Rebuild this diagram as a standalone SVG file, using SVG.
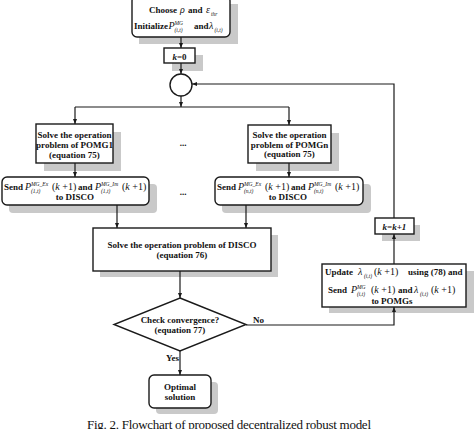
<svg xmlns="http://www.w3.org/2000/svg" width="474" height="429" viewBox="0 0 474 429">
<style>
text{font-family:"Liberation Serif","Times New Roman",serif;fill:#111;}
.b{font-weight:bold;font-size:9px;}
.c{text-anchor:middle;}
.m{font-style:italic;font-weight:normal;font-size:10px;}
.r{font-weight:normal;font-size:10px;}
.s{font-style:italic;font-weight:normal;font-size:5.5px;}
.box{fill:#fff;stroke:#1a1a1a;stroke-width:1.4;}
.sh{fill:#c9c9c9;stroke:none;}
.ln{fill:none;stroke:#1a1a1a;stroke-width:1.2;}
.cap{font-size:13px;font-weight:normal;}
</style>
<defs>
<marker id="ah" viewBox="0 0 10 8" refX="10" refY="4" markerWidth="5" markerHeight="4.5" markerUnits="userSpaceOnUse" orient="auto">
<path d="M0,0 L10,4 L0,8 z" fill="#1a1a1a"/>
</marker>
</defs>
<rect width="474" height="429" fill="#fff"/>

<g id="init">
<rect class="sh" x="139" y="4" width="99" height="40"/>
<rect class="box" x="132" y="-4" width="98" height="41" rx="5"/>
<text class="b" y="13" font-size="8.5"><tspan x="149">Choose</tspan><tspan class="m" x="180">ρ</tspan><tspan x="188">and</tspan><tspan class="m" x="206">ε</tspan><tspan class="s" x="211" y="15.5">thr</tspan></text>
<text class="b" y="29" font-size="8.5"><tspan x="134">Initialize</tspan><tspan class="m" x="168.5">P</tspan><tspan class="s" x="174.5" y="25">MG</tspan><tspan class="s" x="174.5" y="32">(i,t)</tspan><tspan x="194" y="29">and</tspan><tspan class="m" x="209">λ</tspan><tspan class="s" x="214.5" y="31.5">(i,t)</tspan></text>
</g>

<g id="k0">
<rect class="sh" x="172" y="55" width="31" height="16"/>
<rect class="box" x="164" y="48" width="31" height="15"/>
<text class="b c" x="179.5" y="59.5"><tspan font-style="italic">k</tspan>=0</text>
</g>

<g id="merge">
<circle class="box" cx="181" cy="85" r="11"/>
</g>

<g id="pomg1">
<rect class="sh" x="44" y="132" width="77" height="39"/>
<rect class="box" x="36" y="124" width="77" height="39"/>
<text class="b c" x="74.5" y="138">Solve the operation</text>
<text class="b c" x="74.5" y="148">problem of POMG1</text>
<text class="b c" x="74.5" y="157.5">(equation 75)</text>
</g>

<g id="pomgn">
<rect class="sh" x="256" y="133" width="83" height="38"/>
<rect class="box" x="248" y="125" width="83" height="38"/>
<text class="b c" x="289.5" y="137.5">Solve the operation</text>
<text class="b c" x="289.5" y="147.5">problem of POMGn</text>
<text class="b c" x="289.5" y="157">(equation 75)</text>
</g>

<g id="dots">
<text class="b c" x="183" y="146" font-size="12">...</text>
<text class="b c" x="183" y="195" font-size="12">...</text>
</g>

<g id="send1">
<rect class="sh" x="9" y="184" width="148" height="29" rx="4"/>
<rect class="box" x="2" y="177" width="147" height="28" rx="5"/>
<text class="b" y="190"><tspan x="4">Send</tspan><tspan class="m" x="25">P</tspan><tspan class="s" x="31" y="185.5">MG_Ex</tspan><tspan class="s" x="31" y="192.5">(1,t)</tspan><tspan class="r" x="52" y="190">(<tspan font-style="italic">k</tspan> +1)</tspan><tspan x="78">and</tspan><tspan class="m" x="95">P</tspan><tspan class="s" x="101" y="185.5">MG_Im</tspan><tspan class="s" x="101" y="192.5">(1,t)</tspan><tspan class="r" x="122" y="190">(<tspan font-style="italic">k</tspan> +1)</tspan></text>
<text class="b c" x="75" y="199.5">to DISCO</text>
</g>

<g id="sendn">
<rect class="sh" x="222" y="184" width="149" height="29" rx="4"/>
<rect class="box" x="215" y="177" width="148" height="28" rx="5"/>
<text class="b" y="190"><tspan x="217">Send</tspan><tspan class="m" x="238">P</tspan><tspan class="s" x="244" y="185.5">MG_Ex</tspan><tspan class="s" x="244" y="192.5">(n,t)</tspan><tspan class="r" x="265" y="190">(<tspan font-style="italic">k</tspan> +1)</tspan><tspan x="291">and</tspan><tspan class="m" x="308">P</tspan><tspan class="s" x="314" y="185.5">MG_Im</tspan><tspan class="s" x="314" y="192.5">(n,t)</tspan><tspan class="r" x="335" y="190">(<tspan font-style="italic">k</tspan> +1)</tspan></text>
<text class="b c" x="288" y="199.5">to DISCO</text>
</g>

<g id="disco">
<rect class="sh" x="100" y="235" width="178" height="42"/>
<rect class="box" x="93" y="228" width="178" height="43"/>
<text class="b c" x="182" y="248">Solve the operation problem of DISCO</text>
<text class="b c" x="182" y="257.5">(equation 76)</text>
</g>

<g id="check">
<polygon class="box" points="180,298 246,324.5 180,351 114,324.5"/>
<text class="b c" x="180" y="323">Check convergence?</text>
<text class="b c" x="180" y="333">(equation 77)</text>
</g>

<g id="optimal">
<rect class="sh" x="156" y="382" width="62" height="32" rx="4"/>
<rect class="box" x="149" y="375" width="62" height="33" rx="5"/>
<text class="b c" x="180" y="390">Optimal</text>
<text class="b c" x="180" y="400">solution</text>
</g>

<g id="update">
<rect class="sh" x="329" y="271" width="145" height="42"/>
<rect class="box" x="322" y="264" width="144" height="43"/>
<text class="b" y="275"><tspan x="325">Update</tspan><tspan class="m" x="358">λ</tspan><tspan class="s" x="364" y="277.5">(i,t)</tspan><tspan class="r" x="374" y="275">(<tspan font-style="italic">k</tspan> +1)</tspan><tspan x="408">using (78) and</tspan></text>
<text class="b" y="293"><tspan x="328">Send</tspan><tspan class="m" x="351">P</tspan><tspan class="s" x="357" y="288.5">MG</tspan><tspan class="s" x="357" y="295.5">(i,t)</tspan><tspan class="r" x="371" y="293">(<tspan font-style="italic">k</tspan> +1)</tspan><tspan x="398">and</tspan><tspan class="m" x="414">λ</tspan><tspan class="s" x="420" y="295.5">(i,t)</tspan><tspan class="r" x="431" y="293">(<tspan font-style="italic">k</tspan> +1)</tspan></text>
<text class="b c" x="392" y="304">to POMGs</text>
</g>

<g id="kinc">
<rect class="sh" x="382" y="225" width="38" height="16"/>
<rect class="box" x="375" y="218" width="39" height="16"/>
<text class="b c" x="394.5" y="229.5" font-style="italic">k=k+1</text>
</g>

<g id="connectors">
<path class="ln" d="M181,37 V48" marker-end="url(#ah)"/>
<path class="ln" d="M181,63 V74" marker-end="url(#ah)"/>
<path class="ln" d="M181,96 V107" marker-end="url(#ah)"/>
<path class="ln" d="M75,107 H289"/>
<path class="ln" d="M75,107 V124" marker-end="url(#ah)"/>
<path class="ln" d="M289,107 V125" marker-end="url(#ah)"/>
<path class="ln" d="M75,163 V177" marker-end="url(#ah)"/>
<path class="ln" d="M289,163 V177" marker-end="url(#ah)"/>
<path class="ln" d="M117,205 V228" marker-end="url(#ah)"/>
<path class="ln" d="M246,205 V228" marker-end="url(#ah)"/>
<path class="ln" d="M180,271 V298" marker-end="url(#ah)"/>
<path class="ln" d="M180,351 V375" marker-end="url(#ah)"/>
<path class="ln" d="M246,325 H394 V307" marker-end="url(#ah)"/>
<path class="ln" d="M394,264 V234" marker-end="url(#ah)"/>
<path class="ln" d="M394,218 V84 H192" marker-end="url(#ah)"/>
<text class="b" x="253" y="322.5">No</text>
<text class="b" x="166" y="360.5">Yes</text>
</g>

<text class="cap" x="87" y="428.5" textLength="284">Fig. 2. Flowchart of proposed decentralized robust model</text>
</svg>
